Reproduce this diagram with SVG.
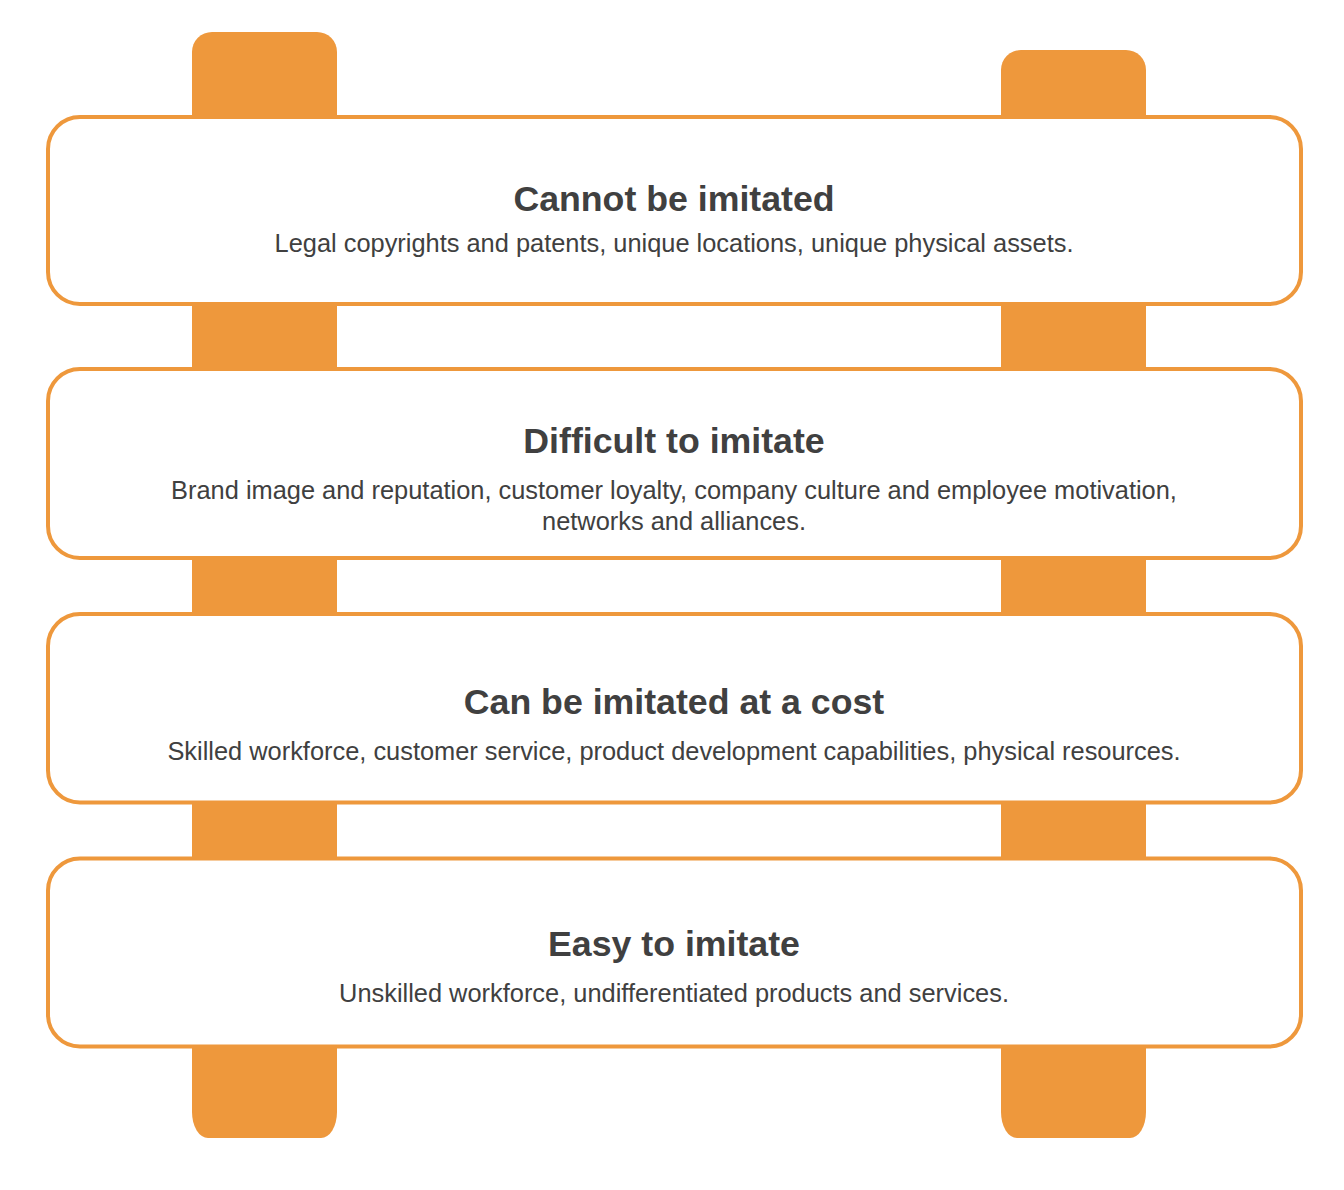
<svg xmlns="http://www.w3.org/2000/svg" width="1344" height="1190" viewBox="0 0 1344 1190">
<style>
.post{fill:#EE983C;}
.box{fill:#FFFFFF;stroke:#EE983C;stroke-width:4;}
.title{font-family:"Liberation Sans",Arial,sans-serif;font-weight:bold;font-size:35.7px;fill:#404040;text-anchor:middle;}
.sub{font-family:"Liberation Sans",Arial,sans-serif;font-size:25.4px;fill:#404040;text-anchor:middle;}
</style>
<rect width="1344" height="1190" fill="#FFFFFF"/>
<g id="posts">
<path class="post" d="M192,52 A20,20 0 0 1 212,32 H317 A20,20 0 0 1 337,52 V1112 A16,26 0 0 1 321,1138 H208 A16,26 0 0 1 192,1112 Z"/>
<path class="post" d="M1001,70 A20,20 0 0 1 1021,50 H1126 A20,20 0 0 1 1146,70 V1112 A16,26 0 0 1 1130,1138 H1017 A16,26 0 0 1 1001,1112 Z"/>
</g>
<g id="connectors"></g>
<g id="node-cannot">
<rect class="box" x="48" y="117" width="1253" height="187" rx="32"/>
<text class="title" x="674" y="211">Cannot be imitated</text>
<text class="sub" x="674" y="252">Legal copyrights and patents, unique locations, unique physical assets.</text>
</g>
<g id="node-difficult">
<rect class="box" x="48" y="369" width="1253" height="189" rx="32"/>
<text class="title" x="674" y="453">Difficult to imitate</text>
<text class="sub" x="674" y="499">Brand image and reputation, customer loyalty, company culture and employee motivation,</text>
<text class="sub" x="674" y="530">networks and alliances.</text>
</g>
<g id="node-cost">
<rect class="box" x="48" y="614" width="1253" height="188.5" rx="32"/>
<text class="title" x="674" y="714">Can be imitated at a cost</text>
<text class="sub" x="674" y="760">Skilled workforce, customer service, product development capabilities, physical resources.</text>
</g>
<g id="node-easy">
<rect class="box" x="48" y="858.5" width="1253" height="188" rx="32"/>
<text class="title" x="674" y="956">Easy to imitate</text>
<text class="sub" x="674" y="1002">Unskilled workforce, undifferentiated products and services.</text>
</g>
</svg>
